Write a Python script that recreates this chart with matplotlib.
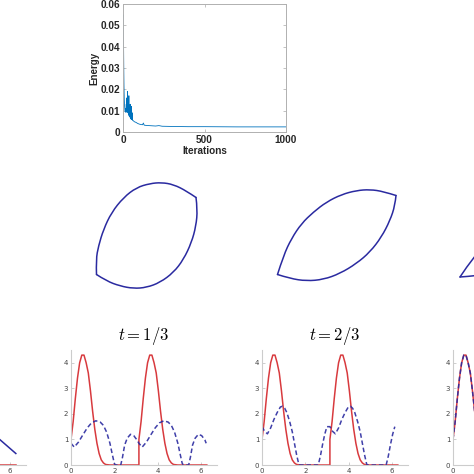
import numpy as np
import matplotlib
matplotlib.use('Agg')
import matplotlib.pyplot as plt
from matplotlib.path import Path
from matplotlib.patches import PathPatch

plt.rcParams['mathtext.fontset'] = 'cm'
plt.rcParams['font.family'] = ['DejaVu Sans']

# energy vs iterations (top panel)
iterations = [0, 1, 2, 3, 4, 5, 6, 7, 8, 10, 12, 14, 16, 18, 20, 22, 24, 26, 28, 30,
              32, 34, 36, 38, 40, 42, 44, 46, 48, 50, 52, 54, 56, 58, 60, 70, 80, 90,
              100, 110, 120, 125, 130, 140, 160, 180, 200, 220, 240, 300, 400, 500,
              700, 1000]
energy = [0.054, 0.055, 0.050, 0.045, 0.036, 0.028, 0.022, 0.018, 0.015, 0.012, 0.010,
          0.0095, 0.011, 0.0092, 0.013, 0.0095, 0.016, 0.010, 0.019, 0.009, 0.012,
          0.008, 0.017, 0.0075, 0.011, 0.007, 0.013, 0.0065, 0.012, 0.006, 0.012,
          0.0058, 0.009, 0.0055, 0.0055, 0.0048, 0.0045, 0.004, 0.0037, 0.0035,
          0.0034, 0.0042, 0.0032, 0.0031, 0.003, 0.0029, 0.0028, 0.003, 0.0027,
          0.0026, 0.0025, 0.0025, 0.0024, 0.0024]

# domain outlines (middle row): each shape = two arcs between its two corners
shape1_top_x = [-1.01, -1.02, -0.97, -0.87, -0.71, -0.47, -0.21, 0.06, 0.29, 0.53, 0.79, 0.98]
shape1_top_y = [-0.77, -0.47, -0.20, 0.13, 0.47, 0.77, 0.97, 1.05, 1.07, 1.03, 0.90, 0.77]
shape1_bot_x = [-1.01, -0.81, -0.54, -0.27, -0.01, 0.26, 0.53, 0.73, 0.89, 0.98, 1.01, 0.98]
shape1_bot_y = [-0.77, -0.90, -1.00, -1.05, -1.03, -0.93, -0.73, -0.47, -0.13, 0.20, 0.53, 0.77]

shape2_top_x = [-1.19, -1.07, -0.91, -0.71, -0.47, -0.21, 0.09, 0.39, 0.66, 0.93, 1.18]
shape2_top_y = [-0.77, -0.39, -0.05, 0.25, 0.48, 0.68, 0.83, 0.91, 0.93, 0.89, 0.81]
shape2_bot_x = [-1.19, -0.94, -0.61, -0.27, 0.06, 0.39, 0.66, 0.89, 1.06, 1.16, 1.18]
shape2_bot_y = [-0.77, -0.85, -0.90, -0.87, -0.75, -0.55, -0.32, -0.02, 0.31, 0.61, 0.81]

shape3_top_x = [-1.34, -1.06, -0.70, -0.30, 0.15, 0.65, 1.34]
shape3_top_y = [-0.82, -0.40, -0.02, 0.30, 0.58, 0.77, 0.82]
shape3_bot_x = [-1.34, -0.65, -0.15, 0.30, 0.70, 1.06, 1.34]
shape3_bot_y = [-0.82, -0.77, -0.58, -0.30, 0.02, 0.40, 0.82]

# densities (bottom row)
red_x = [0, 0.1, 0.2, 0.3, 0.4, 0.5, 0.6, 0.7, 0.8, 0.9, 1.0, 1.1, 1.2, 1.3, 1.4, 1.5,
         1.6, 1.8, 3.14,
         3.14, 3.24, 3.34, 3.44, 3.54, 3.64, 3.74, 3.84, 3.94, 4.04, 4.14, 4.24, 4.34,
         4.44, 4.54, 4.64, 4.74, 4.94, 6.28]
red_y = [1.0, 1.7, 2.6, 3.4, 4.0, 4.3, 4.3, 4.0, 3.6, 2.9, 2.1, 1.4, 0.85, 0.45, 0.2,
         0.08, 0.02, 0.0, 0.0,
         1.0, 1.7, 2.6, 3.4, 4.0, 4.3, 4.3, 4.0, 3.6, 2.9, 2.1, 1.4, 0.85, 0.45, 0.2,
         0.08, 0.02, 0.0, 0.0]

blue0_x = [4.9, 5.56, 6.28]
blue0_y = [1.45, 0.98, 0.45]

blue1_x = [0, 0.15, 0.35, 0.55, 0.75, 0.95, 1.15, 1.35, 1.5, 1.65, 1.8, 1.9, 2.0, 2.05,
           2.3, 2.38, 2.48, 2.6, 2.75, 2.9, 3.05,
           3.14, 3.29, 3.49, 3.69, 3.89, 4.09, 4.29, 4.49, 4.64, 4.79, 4.94, 5.04, 5.14,
           5.19, 5.44, 5.52, 5.62, 5.74, 5.89, 6.04, 6.19, 6.25]
blue1_y = [0.85, 0.70, 0.90, 1.18, 1.45, 1.65, 1.73, 1.68, 1.55, 1.28, 0.85, 0.45, 0.07,
           0.0, 0.0, 0.3, 0.78, 1.05, 1.2, 1.15, 0.98,
           0.85, 0.70, 0.90, 1.18, 1.45, 1.65, 1.73, 1.68, 1.55, 1.28, 0.85, 0.45, 0.07,
           0.0, 0.0, 0.3, 0.78, 1.05, 1.2, 1.15, 0.98, 0.85]

blue2_x = [0, 0.12, 0.25, 0.4, 0.55, 0.7, 0.85, 0.95, 1.05, 1.15, 1.28, 1.4, 1.5, 1.6,
           1.7, 1.75, 2.6, 2.7, 2.8, 2.9, 3.0,
           3.14, 3.26, 3.39, 3.54, 3.69, 3.84, 3.99, 4.09, 4.19, 4.29, 4.42, 4.54, 4.64,
           4.74, 4.84, 4.89, 5.74, 5.84, 5.94, 6.04, 6.14]
blue2_y = [1.5, 1.32, 1.22, 1.45, 1.78, 2.05, 2.27, 2.3, 2.22, 2.05, 1.7, 1.3, 0.85, 0.4,
           0.03, 0.0, 0.0, 0.35, 0.8, 1.2, 1.5,
           1.5, 1.32, 1.22, 1.45, 1.78, 2.05, 2.27, 2.3, 2.22, 2.05, 1.7, 1.3, 0.85, 0.4,
           0.03, 0.0, 0.0, 0.35, 0.8, 1.2, 1.5]

titles = ['$t = 0$', '$t = 1/3$', '$t = 2/3$', '$t = 1$']

RED = '#d83a3e'
NAVY = '#2a2aa0'
W = 474.0

fig = plt.figure(figsize=(4.74, 4.74), dpi=100)


def px_axes(left, top, width, height):
    # place axes using pixel coordinates measured from the top-left corner
    return fig.add_axes([left / W, 1 - (top + height) / W, width / W, height / W])


def smooth_arc(xs, ys):
    # quadratic bezier path through the outline points, ends stay on the corners
    pts = np.column_stack([xs, ys])
    verts = [pts[0]]
    codes = [Path.MOVETO]
    for i in range(1, len(pts) - 1):
        end = pts[i + 1] if i == len(pts) - 2 else (pts[i] + pts[i + 1]) / 2
        verts += [pts[i], end]
        codes += [Path.CURVE3, Path.CURVE3]
    if len(pts) == 2:
        verts.append(pts[1])
        codes.append(Path.LINETO)
    return Path(verts, codes)


# ---- energy plot ----
ax = px_axes(123, 4, 163, 128)
ax.plot(iterations, energy, color='#0072BD', lw=0.6)
ax.set_xlim(0, 1000)
ax.set_ylim(0, 0.06)
ax.set_xticks([0, 500, 1000])
ax.set_yticks([0, 0.01, 0.02, 0.03, 0.04, 0.05, 0.06])
ax.set_yticklabels(['0', '0.01', '0.02', '0.03', '0.04', '0.05', '0.06'])
ax.tick_params(direction='in', top=True, right=True, length=2, width=0.5,
               color='#aaaaaa', labelsize=7.2, pad=2, labelcolor='#262626')
for lab in ax.get_xticklabels() + ax.get_yticklabels():
    lab.set_fontweight('bold')
    lab.set_family('Liberation Sans')
for s in ax.spines.values():
    s.set_color('#b0b0b0')
    s.set_linewidth(0.7)
ax.set_xlabel('Iterations', fontsize=7.2, fontweight='bold', labelpad=1,
              color='#262626', family='Liberation Sans')
ax.set_ylabel('Energy', fontsize=7, fontweight='bold', labelpad=1,
              color='#262626', family='Liberation Sans')

# ---- shapes ----
shapes = [(shape1_top_x, shape1_top_y, shape1_bot_x, shape1_bot_y),
          (shape2_top_x, shape2_top_y, shape2_bot_x, shape2_bot_y),
          (shape3_top_x, shape3_top_y, shape3_bot_x, shape3_bot_y)]
centers = [147, 337, 527]
for (tx, ty, bx, by), c in zip(shapes, centers):
    a = px_axes(c - 95, 236 - 65, 190, 130)
    for xs, ys in [(tx, ty), (bx, by)]:
        a.add_patch(PathPatch(smooth_arc(xs, ys), fill=False, edgecolor=NAVY,
                              lw=1.1, capstyle='round'))
    a.set_xlim(-1.9, 1.9)
    a.set_ylim(-1.3, 1.3)
    a.axis('off')

# ---- densities ----
blues = [(blue0_x, blue0_y, '-'), (blue1_x, blue1_y, '--'), (blue2_x, blue2_y, '--'),
         (red_x, red_y, '--')]
lefts = [-120, 71, 262, 453]
for i in range(4):
    a = px_axes(lefts[i], 350, 146, 115)
    a.plot(red_x, red_y, color=RED, lw=1.1)
    bx, by, ls = blues[i]
    if ls == '--':
        a.plot(bx, by, color=NAVY, lw=1.1, ls=(0, (3.0, 1.8)), alpha=0.9)
    else:
        a.plot(bx, by, color=NAVY, lw=1.1)
    a.set_xlim(0, 6.75)
    a.set_ylim(0, 4.5)
    a.set_xticks([0, 2, 4, 6])
    a.set_yticks([0, 1, 2, 3, 4])
    a.tick_params(direction='in', length=2, width=0.5, color='#bbbbbb',
                  labelsize=5, pad=2, labelcolor='#444444')
    for side in ['top', 'right']:
        a.spines[side].set_visible(False)
    for side in ['left', 'bottom']:
        a.spines[side].set_color('#cccccc')
        a.spines[side].set_linewidth(0.8)
    a.set_title(titles[i], fontsize=12, pad=7)

fig.savefig('out.png', dpi=100)
